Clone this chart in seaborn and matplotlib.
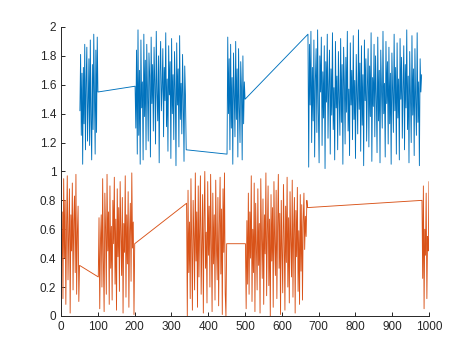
import numpy as np
import pandas as pd
import matplotlib
matplotlib.use("Agg")
import matplotlib.pyplot as plt
import seaborn as sns
from matplotlib.ticker import FormatStrFormatter, MultipleLocator

# ---- data ----
# blue series segments: (x start, x end, values)
b1_range = (51, 100)
b1 = [1.42, 1.81, 1.25, 1.68, 1.05, 1.72, 1.33, 1.88, 1.15, 1.62, 1.86, 1.21, 1.47, 1.78, 1.18,
      1.91, 1.36, 1.08, 1.74, 1.29, 1.95, 1.52, 1.12, 1.84, 1.27, 1.93, 1.55]
b2_range = (201, 340)
b2 = [1.59, 1.30, 1.84, 1.12, 1.98, 1.25, 1.70, 1.05, 1.91, 1.44, 1.62, 1.08, 1.95, 1.38, 1.77,
      1.15, 1.88, 1.52, 1.21, 1.82, 1.66, 1.10, 1.93, 1.47, 1.74, 1.28, 1.86, 1.60, 1.19, 1.97,
      1.55, 1.35, 1.80, 1.06, 1.69, 1.90, 1.42, 1.58, 1.85, 1.24, 1.72, 1.49, 1.96, 1.31, 1.64,
      1.14, 1.87, 1.53, 1.76, 1.09, 1.92, 1.40, 1.67, 1.22, 1.83, 1.57, 1.04, 1.89, 1.46, 1.71,
      1.17, 1.94, 1.36, 1.61, 1.26, 1.81, 1.50, 1.07, 1.73, 1.52, 1.15]
b3_range = (451, 500)
b3 = [1.12, 1.93, 1.40, 1.78, 1.15, 1.88, 1.30, 1.65, 1.05, 1.82, 1.52, 1.24, 1.90, 1.36, 1.71,
      1.10, 1.85, 1.45, 1.20, 1.76, 1.58, 1.08, 1.80, 1.33, 1.62, 1.50]
b4_range = (671, 980)
b4 = [1.95, 1.03, 1.88, 1.46, 1.97, 1.20, 1.72, 1.35, 1.91, 1.10, 1.64, 1.85, 1.27, 1.98, 1.42,
      1.06, 1.80, 1.55, 1.93, 1.18, 1.69, 1.37, 1.87, 1.02, 1.76, 1.48, 1.95, 1.23, 1.60, 1.84,
      1.12, 1.71, 1.39, 1.96, 1.29, 1.58, 1.08, 1.90, 1.44, 1.66, 1.15, 1.83, 1.51, 1.25, 1.92,
      1.34, 1.74, 1.05, 1.86, 1.62, 1.19, 1.79, 1.41, 1.97, 1.28, 1.57, 1.11, 1.89, 1.46, 1.70,
      1.22, 1.94, 1.36, 1.63, 1.09, 1.81, 1.53, 1.26, 1.98, 1.43, 1.75, 1.14, 1.87, 1.32, 1.67,
      1.04, 1.91, 1.49, 1.78, 1.21, 1.59, 1.85, 1.17, 1.73, 1.38, 1.96, 1.07, 1.65, 1.45, 1.88,
      1.24, 1.80, 1.52, 1.13, 1.93, 1.35, 1.70, 1.06, 1.84, 1.56, 1.30, 1.97, 1.40, 1.61, 1.10,
      1.90, 1.47, 1.76, 1.19, 1.86, 1.33, 1.68, 1.05, 1.82, 1.54, 1.27, 1.95, 1.42, 1.72, 1.12,
      1.89, 1.37, 1.64, 1.08, 1.92, 1.50, 1.79, 1.23, 1.58, 1.87, 1.15, 1.74, 1.44, 1.98, 1.29,
      1.66, 1.06, 1.83, 1.52, 1.20, 1.94, 1.39, 1.71, 1.11, 1.85, 1.48, 1.25, 1.96, 1.34, 1.62,
      1.04, 1.78, 1.55, 1.67]

# orange series segments
o1_range = (1, 50)
o1 = [0.35, 0.72, 0.12, 0.95, 0.40, 0.80, 0.08, 0.63, 0.97, 0.25, 0.55, 0.88, 0.02, 0.70, 0.45,
      0.92, 0.18, 0.66, 0.83, 0.30, 0.98, 0.15, 0.58, 0.76, 0.10, 0.35]
o2_range = (101, 200)
o2 = [0.27, 0.68, 0.05, 0.52, 0.70, 0.20, 0.95, 0.38, 0.03, 0.85, 0.60, 0.15, 0.98, 0.45, 0.72,
      0.08, 0.90, 0.33, 0.62, 0.11, 0.80, 0.50, 0.96, 0.22, 0.67, 0.04, 0.88, 0.41, 0.75, 0.17,
      0.93, 0.57, 0.28, 0.82, 0.02, 0.64, 0.44, 0.97, 0.13, 0.70, 0.36, 0.86, 0.06, 0.59, 0.78,
      0.24, 0.99, 0.47, 0.65, 0.01, 0.50]
o3_range = (341, 450)
o3 = [0.78, 0.00, 0.87, 0.30, 0.65, 0.12, 0.95, 0.46, 0.04, 0.80, 0.55, 0.18, 0.99, 0.38, 0.72,
      0.06, 0.90, 0.27, 0.60, 0.97, 0.15, 0.50, 0.84, 0.02, 0.68, 1.00, 0.33, 0.58, 0.09, 0.93,
      0.42, 0.76, 0.20, 0.98, 0.52, 0.03, 0.85, 0.36, 0.70, 0.11, 0.94, 0.48, 0.25, 0.82, 0.07,
      0.63, 0.96, 0.29, 0.74, 0.01, 0.88, 0.44, 0.99, 0.16, 0.00, 0.50]
o4_range = (501, 670)
o4 = [0.50, 0.05, 0.66, 0.22, 0.85, 0.15, 0.72, 0.40, 0.97, 0.10, 0.60, 0.30, 0.92, 0.03, 0.78,
      0.48, 0.18, 0.88, 0.35, 0.64, 0.02, 0.95, 0.55, 0.26, 0.81, 0.08, 0.70, 0.43, 0.99, 0.14,
      0.58, 0.90, 0.21, 0.67, 0.00, 0.84, 0.38, 0.75, 0.06, 0.93, 0.50, 0.28, 0.87, 0.12, 0.62,
      0.98, 0.33, 0.71, 0.01, 0.80, 0.45, 0.16, 0.91, 0.57, 0.04, 0.76, 0.37, 0.96, 0.20, 0.68,
      0.09, 0.86, 0.52, 0.27, 0.94, 0.13, 0.63, 0.82, 0.02, 0.73, 0.41, 0.89, 0.17, 0.59, 0.08,
      0.84, 0.31, 0.77, 0.11, 0.65, 0.85, 0.46, 0.69, 0.55, 0.80, 0.75]
o5_range = (981, 1000)
o5 = [0.80, 0.26, 0.90, 0.05, 0.60, 0.42, 0.85, 0.12, 0.55, 0.45, 0.93]

x_ticks = list(range(0, 1001, 100))

# ---- build table ----
def seg(rng, vals, name):
    x = np.linspace(rng[0], rng[1], len(vals))
    return pd.DataFrame({"x": x, "y": vals, "series": name})

df = pd.concat([
    seg(b1_range, b1, "blue"), seg(b2_range, b2, "blue"),
    seg(b3_range, b3, "blue"), seg(b4_range, b4, "blue"),
    seg(o1_range, o1, "orange"), seg(o2_range, o2, "orange"),
    seg(o3_range, o3, "orange"), seg(o4_range, o4, "orange"),
    seg(o5_range, o5, "orange"),
], ignore_index=True)

sns.set_theme(style="ticks")
plt.rcParams["font.family"] = ["Liberation Sans", "DejaVu Sans"]

fig = plt.figure(figsize=(4.74, 3.55), dpi=100)
ax = fig.add_axes([0.129, 0.110, 0.776, 0.814])

sns.lineplot(data=df, x="x", y="y", hue="series",
             palette={"blue": "#0072BD", "orange": "#D95319"},
             estimator=None, sort=True, linewidth=0.65, legend=False, ax=ax)

ax.set_xlim(0, 1000)
ax.set_ylim(0, 2)
ax.set_xticks(x_ticks)
ax.yaxis.set_major_locator(MultipleLocator(0.2))
ax.yaxis.set_major_formatter(FormatStrFormatter("%g"))
ax.set_xlabel("")
ax.set_ylabel("")
for s in ["top", "right"]:
    ax.spines[s].set_visible(False)
for s in ["left", "bottom"]:
    ax.spines[s].set_color("#262626")
    ax.spines[s].set_linewidth(0.7)
ax.tick_params(direction="in", length=3, width=0.7, colors="#262626",
               labelsize=8.5, labelcolor="#262626")

fig.savefig("out.png", dpi=100)
